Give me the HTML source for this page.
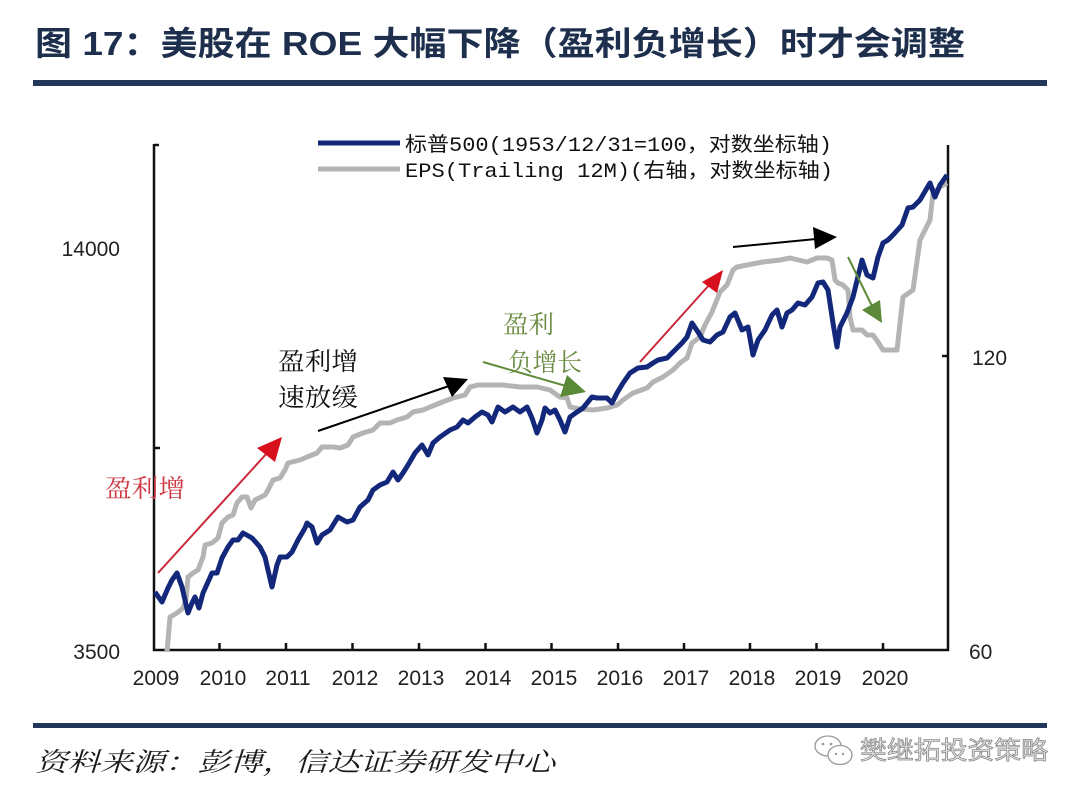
<!DOCTYPE html>
<html>
<head>
<meta charset="utf-8">
<style>
html,body{margin:0;padding:0;background:#fff;}
svg{display:block;}
</style>
</head>
<body>
<svg width="1080" height="798" viewBox="0 0 1080 798" xmlns="http://www.w3.org/2000/svg">
<rect width="1080" height="798" fill="#fff"/>
<!-- Title -->
<text x="35" y="55" font-family="'Liberation Sans','Noto Sans CJK SC',sans-serif" font-weight="bold" font-size="33" fill="#1d2f4c" textLength="930" lengthAdjust="spacingAndGlyphs">图 17：美股在 ROE 大幅下降（盈利负增长）时才会调整</text>
<rect x="33" y="80" width="1014" height="6" fill="#22365a"/>

<!-- Legend -->
<line x1="318" y1="143" x2="400" y2="143" stroke="#13287a" stroke-width="5"/>
<line x1="318" y1="169" x2="400" y2="169" stroke="#b4b4b4" stroke-width="5"/>
<text x="405" y="151" font-family="'Liberation Mono','Noto Sans CJK SC',monospace" font-size="20" fill="#111" textLength="427" lengthAdjust="spacingAndGlyphs">标普500(1953/12/31=100，对数坐标轴)</text>
<text x="405" y="177" font-family="'Liberation Mono','Noto Sans CJK SC',monospace" font-size="20" fill="#111" textLength="428" lengthAdjust="spacingAndGlyphs">EPS(Trailing 12M)(右轴，对数坐标轴)</text>

<!-- Axes -->
<g stroke="#111" stroke-width="2.5" fill="none">
<line x1="154" y1="144" x2="154" y2="651"/>
<line x1="154" y1="145" x2="159" y2="145"/>
<line x1="154" y1="448" x2="160" y2="448"/>
<line x1="948" y1="145" x2="948" y2="651"/>
<line x1="948" y1="356" x2="942" y2="356"/>
<line x1="153" y1="650" x2="949" y2="650"/>
<line x1="219.5" y1="650" x2="219.5" y2="643"/>
<line x1="286" y1="650" x2="286" y2="643"/>
<line x1="352.5" y1="650" x2="352.5" y2="643"/>
<line x1="419" y1="650" x2="419" y2="643"/>
<line x1="485.5" y1="650" x2="485.5" y2="643"/>
<line x1="551.5" y1="650" x2="551.5" y2="643"/>
<line x1="618" y1="650" x2="618" y2="643"/>
<line x1="684" y1="650" x2="684" y2="643"/>
<line x1="750" y1="650" x2="750" y2="643"/>
<line x1="816.5" y1="650" x2="816.5" y2="643"/>
<line x1="883" y1="650" x2="883" y2="643"/>
</g>

<g font-family="'Liberation Sans',sans-serif" font-size="21" fill="#222">
<text x="120" y="256" text-anchor="end">14000</text>
<text x="120" y="659" text-anchor="end">3500</text>
<text x="972" y="365">120</text>
<text x="969" y="659">60</text>
</g>
<g font-family="'Liberation Sans',sans-serif" font-size="21" fill="#222" text-anchor="middle">
<text x="156" y="685">2009</text>
<text x="223" y="685">2010</text>
<text x="288" y="685">2011</text>
<text x="355" y="685">2012</text>
<text x="421" y="685">2013</text>
<text x="488" y="685">2014</text>
<text x="554" y="685">2015</text>
<text x="620" y="685">2016</text>
<text x="686" y="685">2017</text>
<text x="752" y="685">2018</text>
<text x="818" y="685">2019</text>
<text x="885" y="685">2020</text>
</g>

<!-- EPS gray series -->
<polyline fill="none" stroke="#b4b4b4" stroke-width="5" stroke-linejoin="round" points="167,652 170,617 177,613 183,608 186,600 188,577 193,573 198,570 203,557 205,545 212,543 218,538 222,523 228,517 233,515 237,503 242,497 247,497 251,508 255,500 265,495 268,490 273,480 280,478 285,470 288,463 300,460 307,457 317,453 322,447 333,447 340,448 348,445 353,437 363,433 373,430 380,423 390,423 397,420 407,417 413,412 423,410 430,407 440,403 453,398 465,395 470,387 478,385 503,385 520,387 537,387 550,390 557,395 560,397 567,398 570,407 580,409 593,410 607,408 617,405 623,400 633,393 647,388 653,382 663,377 673,370 680,363 687,358 692,343 700,337 705,325 712,312 720,292 727,285 733,270 737,267 747,265 763,262 780,260 790,258 807,262 817,258 827,258 832,260 835,280 838,283 843,285 848,290 850,317 853,330 862,330 867,335 873,335 878,342 883,350 897,350 900,323 903,297 913,290 920,240 930,220 933,193 940,187 947,183"/>

<!-- S&P blue series -->
<polyline fill="none" stroke="#13287a" stroke-width="5" stroke-linejoin="round" points="155,592 162,602 168,588 172,580 177,573 182,587 185,600 188,613 192,603 195,597 199,608 203,593 208,582 212,573 217,573 222,558 228,547 233,540 238,540 243,533 252,538 260,547 265,557 268,570 272,587 277,565 280,557 287,557 292,552 298,540 305,528 307,523 312,527 317,543 322,535 330,530 338,517 347,522 353,520 360,507 368,500 373,490 380,485 387,482 393,472 398,480 403,473 408,465 415,453 422,445 428,455 433,443 440,437 450,430 457,427 463,420 468,423 475,417 482,412 488,415 492,422 498,407 505,412 513,407 520,412 527,407 532,418 537,433 542,420 545,408 550,413 555,410 560,420 565,432 570,417 577,412 583,408 592,397 597,398 607,398 612,403 617,393 623,383 630,373 638,368 647,367 653,363 658,360 667,358 673,352 682,343 687,337 692,323 698,332 703,340 710,342 717,335 723,332 730,317 735,313 742,330 748,327 753,355 758,340 765,330 772,315 777,310 782,327 787,313 792,310 798,303 805,305 812,297 818,283 823,282 828,290 833,323 837,347 840,327 847,313 853,297 862,260 867,275 873,278 878,257 883,243 888,240 893,235 902,225 908,208 913,207 920,200 927,188 930,183 935,197 940,185 947,175"/>

<!-- Annotations -->
<g>
<line x1="158" y1="573" x2="268" y2="452" stroke="#c8283a" stroke-width="2"/>
<polygon points="282,437 257,448 275,462" fill="#d8101e"/>
<line x1="640" y1="362" x2="710" y2="284" stroke="#c8283a" stroke-width="2"/>
<polygon points="723,270 702,282 717,293" fill="#d8101e"/>

<line x1="318" y1="431" x2="449" y2="386" stroke="#000" stroke-width="2"/>
<polygon points="468,379 443,377 452,397" fill="#000"/>
<line x1="733" y1="247" x2="816" y2="239" stroke="#000" stroke-width="2"/>
<polygon points="837,237 813,227 815,249" fill="#000"/>

<line x1="483" y1="362" x2="566" y2="386" stroke="#5f8a3a" stroke-width="2"/>
<polygon points="586,392 567,375 560,397" fill="#5a8a38"/>
<line x1="848" y1="257" x2="872" y2="306" stroke="#5f8a3a" stroke-width="2"/>
<polygon points="882,323 862,310 880,300" fill="#5a8a38"/>
</g>
<g font-family="'Noto Serif CJK SC','Noto Sans CJK SC',serif" font-size="25">
<text x="105" y="497" fill="#cf3a44" textLength="80" lengthAdjust="spacingAndGlyphs">盈利增</text>
<text x="278" y="370" fill="#111" textLength="80" lengthAdjust="spacingAndGlyphs">盈利增</text>
<text x="278" y="406" fill="#111" textLength="80" lengthAdjust="spacingAndGlyphs">速放缓</text>
<text x="503" y="333" fill="#6a8c42" textLength="51" lengthAdjust="spacingAndGlyphs">盈利</text>
<text x="508" y="371" fill="#6a8c42" textLength="74" lengthAdjust="spacingAndGlyphs">负增长</text>
</g>

<!-- Footer -->
<rect x="33" y="723" width="1014" height="5" fill="#22365a"/>
<text x="35" y="771" font-family="'Noto Serif CJK SC','Noto Sans CJK SC',serif" font-style="italic" font-size="26" fill="#1a1a1a" textLength="520" lengthAdjust="spacingAndGlyphs">资料来源：彭博，信达证券研发中心</text>

<!-- watermark -->
<g fill="#fff" stroke="#999" stroke-width="1.3">
<ellipse cx="828" cy="746" rx="13" ry="10"/>
<ellipse cx="840" cy="755" rx="12" ry="9.5"/>
</g>
<g fill="#999">
<circle cx="823" cy="744" r="1.3"/><circle cx="831" cy="744" r="1.3"/>
<circle cx="836" cy="754" r="1.2"/><circle cx="843" cy="754" r="1.2"/>
</g>
<text x="860" y="759" font-family="'Noto Sans CJK SC',sans-serif" font-size="25" fill="#e6e6e6" stroke="#8a8a8a" stroke-width="0.8" textLength="188" lengthAdjust="spacingAndGlyphs">樊继拓投资策略</text>
</svg>
</body>
</html>
